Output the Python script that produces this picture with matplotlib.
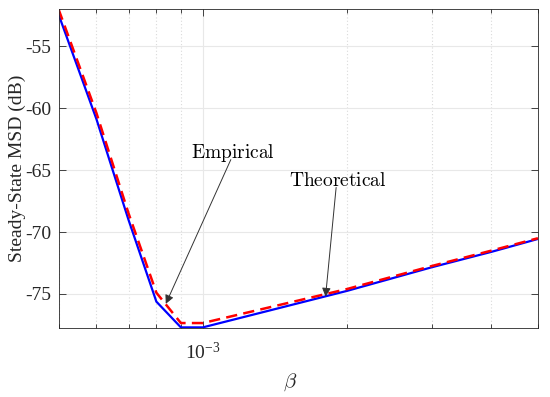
import matplotlib
matplotlib.use("Agg")
import matplotlib.pyplot as plt
from matplotlib.ticker import LogLocator, FixedLocator, NullFormatter, FixedFormatter

beta = [5e-4, 6e-4, 7e-4, 8e-4, 9e-4, 1e-3, 2e-3, 3e-3, 4e-3, 5e-3]
msd_blue = [-52.42, -60.89, -69.03, -75.62, -77.7, -77.7, -74.75, -72.85, -71.6, -70.56]
msd_red = [-52.0, -60.4, -68.5, -74.9, -77.35, -77.35, -74.6, -72.75, -71.5, -70.5]

yticks = [-75, -70, -65, -60, -55]
ytick_labels = ["-75", "-70", "-65", "-60", "-55"]

serif = ['Liberation Serif', 'DejaVu Serif']
plt.rcParams['font.family'] = serif
plt.rcParams['mathtext.fontset'] = 'cm'

fig = plt.figure(figsize=(5.5, 3.97), dpi=100)
ax = fig.add_axes([0.1064, 0.1738, 0.8716, 0.8032])

ax.plot(beta, msd_blue, color='#0000ff', lw=1.6, solid_joinstyle='miter')
ax.plot(beta, msd_red, color='#ff0000', lw=1.8, ls=(0, (4.5, 2.5)))

ax.set_xscale('log')
ax.set_xlim(5e-4, 5e-3)
ax.set_ylim(-77.75, -52.0)

ax.xaxis.set_major_locator(FixedLocator([1e-3]))
ax.xaxis.set_major_formatter(FixedFormatter([r'$\mathregular{10^{-3}}$']))
ax.xaxis.set_minor_locator(LogLocator(base=10, subs=range(2, 10), numticks=20))
ax.xaxis.set_minor_formatter(NullFormatter())
ax.set_yticks(yticks)
ax.set_yticklabels(ytick_labels)

ax.grid(True, which='major', color='#e8e8e8', lw=0.8, ls='-')
ax.grid(True, which='minor', axis='x', color='#dadada', lw=0.8, ls=(0, (1, 2)))
ax.set_axisbelow(True)

for s in ax.spines.values():
    s.set_color('#262626')
    s.set_linewidth(0.6)
ax.tick_params(which='both', direction='in', top=True, right=True, color='#262626', width=0.6)
ax.tick_params(which='major', length=5)
ax.tick_params(which='minor', length=3)
ax.tick_params(axis='y', labelsize=14, pad=5)
ax.tick_params(axis='x', labelsize=14, pad=10)
for lab in ax.get_yticklabels() + ax.get_xticklabels():
    lab.set_color('#262626')

ax.set_ylabel('Steady-State MSD (dB)', fontsize=14, color='#262626')
ax.yaxis.set_label_coords(-0.068, 0.5)
ax.set_xlabel(r'$\mathit{\beta}$', fontsize=15, color='#262626')
ax.xaxis.set_label_coords(0.483, -0.135)

# annotations
emp_text = (1.155e-3, -63.63)
emp_tail = (1.144e-3, -64.15)
emp_head = (0.837e-3, -75.8)
th_text = (1.911e-3, -65.89)
th_tail = (1.897e-3, -66.4)
th_head = (1.803e-3, -75.22)

ax.text(*emp_text, r'$\mathrm{Empirical}$', ha='center', va='center', fontsize=14, color='k')
ax.text(*th_text, r'$\mathrm{Theoretical}$', ha='center', va='center', fontsize=14, color='k')
arrow = dict(arrowstyle='-|>', color='#333333', lw=0.7, mutation_scale=13, shrinkA=0, shrinkB=0)
ax.annotate('', xy=emp_head, xytext=emp_tail, arrowprops=arrow)
ax.annotate('', xy=th_head, xytext=th_tail, arrowprops=arrow)

fig.savefig('out.png', dpi=100)
